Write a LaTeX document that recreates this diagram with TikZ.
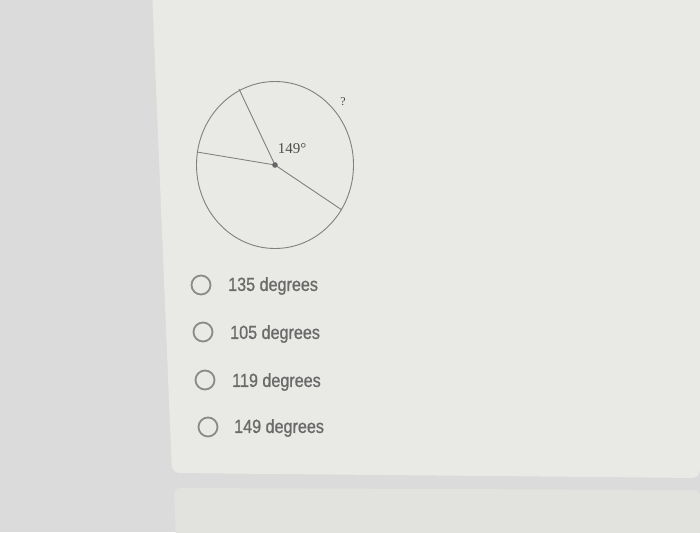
\documentclass[tikz,border=0pt]{standalone}
\usepackage{fontspec}
\setmainfont{Liberation Serif}
\newfontfamily\optfont[FakeStretch=0.85,FakeBold=0.9]{Liberation Sans}
\definecolor{leftbg}{HTML}{DBDBDB}
\definecolor{cardbg}{HTML}{E9E9E5}
\definecolor{linegray}{HTML}{808080}
\definecolor{textgray}{HTML}{6A6A6A}
\definecolor{radiogray}{HTML}{8A8A88}
\tikzset{
  optlabel/.style={anchor=west, inner sep=0pt, text=textgray, font=\optfont\fontsize{19}{22}\selectfont},
  radio/.style={circle, draw=radiogray, line width=1.8pt, minimum size=19pt, inner sep=0pt},
  radius line/.style={draw=linegray, line width=0.9pt},
}
\begin{document}
\begin{tikzpicture}[x=1pt,y=-1pt]
\useasboundingbox (0,0) rectangle (700,532);
\fill[leftbg] (0,0) rectangle (700,532);
% main card
\fill[cardbg, rounded corners=8pt] (152,-10) -- (700,-10) -- (700,478) -- (172,473) -- cycle;
% lower card
\fill[cardbg!97!black, rounded corners=6pt] (174,488) -- (700,490) -- (700,540) -- (176,540) -- cycle;
% circle diagram
\coordinate (O) at (275,165);
\draw[linegray, line width=0.9pt] (O) ellipse [x radius=78.5, y radius=83.5];
\coordinate (A) at (239,89);
\coordinate (B) at (197,152);
\coordinate (C) at (342,210);
\draw[radius line] (O) -- (A);
\draw[radius line] (O) -- (B);
\draw[radius line] (O) -- (C);
\fill[linegray!80!black] (O) circle (2.8);
\node[text=black!70, font=\fontsize{15}{17}\selectfont, inner sep=0pt] (ang) at (292,149) {149°};
\node[text=black!70, font=\fontsize{12}{14}\selectfont, inner sep=0pt] (q) at (343,102) {?};
% options
\node[radio] (r1) at (201,285) {};
\node[radio] (r2) at (203,332) {};
\node[radio] (r3) at (205,380) {};
\node[radio] (r4) at (208,427) {};
\node[optlabel] (t1) at (228,286) {135 degrees};
\node[optlabel] (t2) at (230,334) {105 degrees};
\node[optlabel] (t3) at (232,382) {119 degrees};
\node[optlabel] (t4) at (234,428) {149 degrees};
\end{tikzpicture}
\end{document}
